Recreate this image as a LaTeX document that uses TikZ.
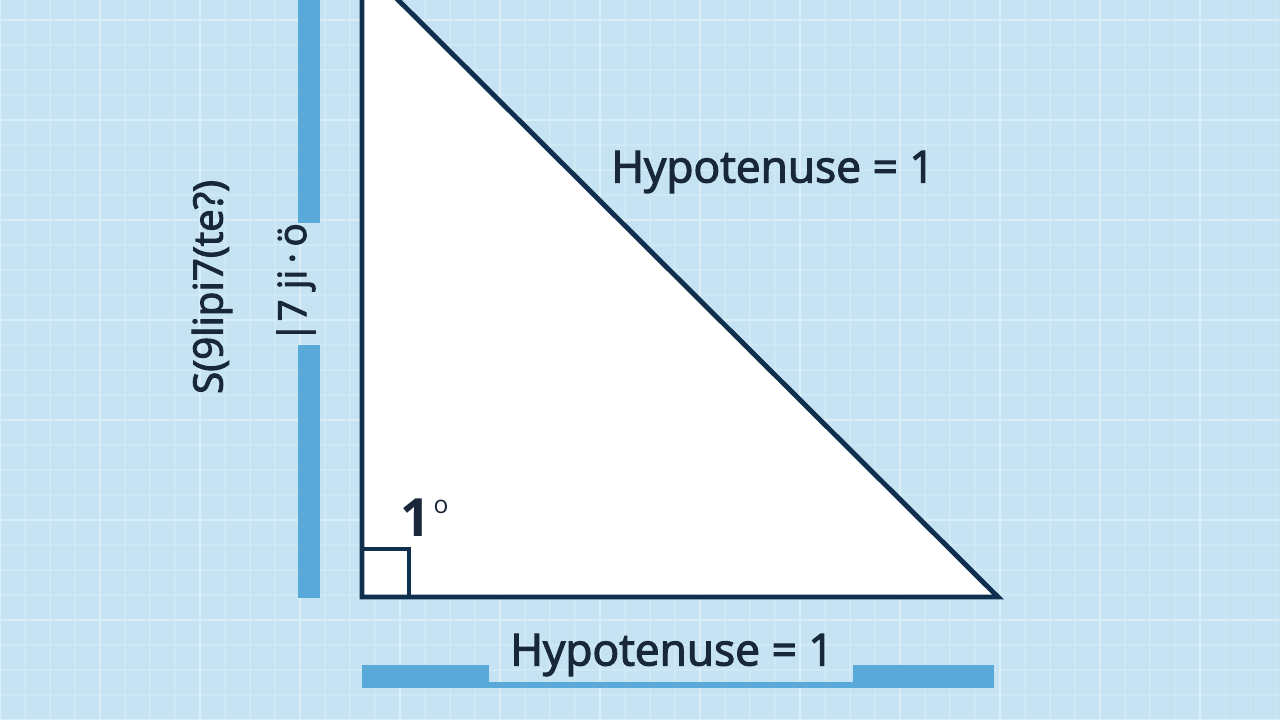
\documentclass[tikz,border=0pt]{standalone}
\usepackage{fontspec}
\setmainfont{Open Sans}
\newfontfamily\medfont{Open Sans}[FakeBold=2.6]
\definecolor{paper}{HTML}{C5E3F3}
\definecolor{gridln}{HTML}{CEE8F6}
\definecolor{barblue}{HTML}{5AAAD9}
\definecolor{navy}{HTML}{0F2F4E}
\definecolor{ink}{HTML}{18273A}
\tikzset{
  lbl/.style={text=ink, inner sep=0pt, font=\medfont\fontsize{12.6}{15}\selectfont},
  bar/.style={fill=barblue, draw=none},
  edgeln/.style={draw=navy, line width=1.4pt, line join=miter}
}
\begin{document}
\begin{tikzpicture}
% background
\useasboundingbox (0,0) rectangle (12.8,7.2);
\fill[paper] (0,0) rectangle (12.8,7.2);
\draw[gridln, line width=0.3pt] (0,0) grid[step=0.25] (12.8,7.2);
\draw[gridln!75!white, line width=0.6pt] (0,0) grid[step=1] (12.8,7.2);

% side bars
\begin{scope}[every path/.style={bar}]
    \fill (2.98,4.97) rectangle (3.20,7.2);
    \fill (2.98,1.22) rectangle (3.20,3.75);

    \fill (3.62,0.32) rectangle (4.89,0.55);
    \fill (8.53,0.32) rectangle (9.94,0.55);
    \fill (4.89,0.32) rectangle (8.53,0.38);
\end{scope}

% triangle
\clip (0,0) rectangle (12.8,7.2);
\coordinate (rA) at (3.62,1.23);
\coordinate (tB) at (3.62,7.56);
\coordinate (bC) at (9.98,1.23);
\filldraw[edgeln, fill=white] (rA) -- (tB) -- (bC) -- cycle;
\draw[edgeln] (rA) rectangle (4.09,1.71);

% labels
\begin{scope}[every node/.style={lbl}]
    \node (hyptop) at (7.73,5.48) {Hypotenuse = 1};
    \node (hypbot) at (6.72,0.65) {Hypotenuse = 1};

    \node[font=\fontsize{15}{17}\selectfont\bfseries] (one) at (4.16,2.02) {1};
    \node[font=\fontsize{7}{8}\selectfont] (deg) at (4.41,2.13) {o};

    \node[rotate=90, font=\medfont\fontsize{11.5}{13}\selectfont] (sidel) at (2.12,4.33) {S(9lipi7(te?)};
    \node[rotate=90, font=\medfont\fontsize{11}{13}\selectfont] (sider) at (2.96,4.37) {|7 ji\,·\,ö};
\end{scope}
\end{tikzpicture}
\end{document}
